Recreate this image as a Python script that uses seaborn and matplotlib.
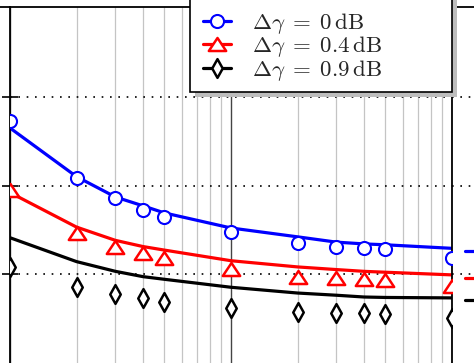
import numpy as np
import pandas as pd
import matplotlib
matplotlib.use("Agg")
import matplotlib.pyplot as plt
from matplotlib.lines import Line2D
from matplotlib.patches import Rectangle
from matplotlib.path import Path
import seaborn as sns

# ---------------- data ----------------
x_vals = [1, 2, 3, 4, 5, 10, 20, 30, 40, 50, 100]

labels = [r"$\Delta\gamma\;=\;0\,\mathrm{dB}$",
          r"$\Delta\gamma\;=\;0.4\,\mathrm{dB}$",
          r"$\Delta\gamma\;=\;0.9\,\mathrm{dB}$"]

# analytical curves
line_0dB = [2.65, 2.10, 1.87, 1.77, 1.69, 1.52, 1.42, 1.36, 1.34, 1.33, 1.29]
line_04dB = [1.92, 1.53, 1.38, 1.31, 1.27, 1.15, 1.08, 1.05, 1.03, 1.02, 0.99]
line_09dB = [1.41, 1.14, 1.03, 0.97, 0.94, 0.85, 0.785, 0.76, 0.74, 0.735, 0.73]

# simulation markers
mark_0dB = [2.73, 2.08, 1.86, 1.72, 1.64, 1.47, 1.35, 1.31, 1.29, 1.28, 1.18]
mark_04dB = [1.95, 1.46, 1.31, 1.24, 1.18, 1.06, 0.97, 0.955, 0.94, 0.93, 0.86]
mark_09dB = [1.08, 0.85, 0.77, 0.73, 0.68, 0.62, 0.57, 0.56, 0.56, 0.55, 0.50]

yticks = [1, 2, 3]

# neighbouring (cropped) panel on the right
right_x = [0.05, 1.0]
right_vals = [1.26, 0.955, 0.71]

colors = ["#0000ff", "#ff0000", "#000000"]

# ---------------- styling ----------------
sns.set_style("white")
plt.rcParams["mathtext.fontset"] = "cm"

W, H = 474, 363
fig = plt.figure(figsize=(W / 100, H / 100), dpi=100)

def fx(px):
    return px / W

def fy(py):
    return 1 - py / H

top_px, bot_px = 7, 400
ax = fig.add_axes([fx(10), fy(bot_px), (452 - 10) / W, (bot_px - top_px) / H])

df_lines = pd.DataFrame({
    "x": x_vals * 3,
    "y": line_0dB + line_04dB + line_09dB,
    "series": sum([[l] * len(x_vals) for l in labels], []),
})
df_marks = pd.DataFrame({
    "x": x_vals * 3,
    "y": mark_0dB + mark_04dB + mark_09dB,
    "series": sum([[l] * len(x_vals) for l in labels], []),
})

ax.set_xscale("log")
sns.lineplot(data=df_lines, x="x", y="y", hue="series", palette=colors,
             lw=2.3, legend=False, ax=ax, estimator=None, zorder=2)

def closed(verts):
    return Path(verts + [verts[0]],
                [Path.MOVETO] + [Path.LINETO] * (len(verts) - 1) + [Path.CLOSEPOLY])

tri = closed([(-1, -0.75), (1, -0.75), (0, 0.75)])
dia = closed([(0, 1), (-0.56, 0), (0, -1), (0.56, 0)])
mstyles = [dict(marker="o", markersize=9.4, markeredgewidth=1.5),
           dict(marker=tri, markersize=12.5, markeredgewidth=1.8),
           dict(marker=dia, markersize=13.5, markeredgewidth=1.8)]

for lab, c, ms in zip(labels, colors, mstyles):
    sub = df_marks[df_marks["series"] == lab]
    sns.lineplot(data=sub, x="x", y="y", linestyle="none", color=c,
                 markerfacecolor="white", markeredgecolor=c,
                 estimator=None, ax=ax, legend=False, zorder=3, **ms)

ax.set_xlim(1, 100)
ax.set_ylim(1 + (274 - bot_px) / 88.5, 1 + (274 - top_px) / 88.5)
ax.set_yticks(yticks)
ax.set_xlabel("")
ax.set_ylabel("")
ax.tick_params(axis="y", which="both", direction="inout", length=12, width=1.2,
               labelleft=False, left=True, color="black")
ax.tick_params(axis="x", which="both", length=0, labelbottom=False)

ax.set_axisbelow(True)
ax.grid(False)
ax.xaxis.grid(True, which="minor", color="#c4c4c4", lw=0.9, linestyle="-")
ax.xaxis.grid(True, which="major", color="#444444", lw=1.0, linestyle="-")
ax.yaxis.grid(True, which="major", color="black", lw=1.2, linestyle=(0, (1, 4)))

for s in ["left", "top", "right"]:
    ax.spines[s].set_visible(True)
    ax.spines[s].set_color("black")
    ax.spines[s].set_linewidth(1.3)
ax.spines["bottom"].set_visible(False)

# right neighbour panel (cropped)
ax2 = fig.add_axes([fx(452), fy(bot_px), (720 - 452) / W, (bot_px - top_px) / H])
ax2.set_xlim(0, 1)
ax2.set_ylim(ax.get_ylim())
for v, c in zip(right_vals, colors):
    sns.lineplot(x=right_x, y=[v, v], color=c, lw=2.3, ax=ax2, legend=False)
ax2.set_yticks(yticks)
ax2.set_xticks([])
ax2.tick_params(axis="y", length=0, labelleft=False)
ax2.yaxis.grid(True, color="black", lw=1.2, linestyle=(0, (1, 4)))
ax2.set_axisbelow(True)
for s in ["left", "right", "bottom"]:
    ax2.spines[s].set_visible(False)
ax2.spines["top"].set_visible(True)
ax2.spines["top"].set_color("black")
ax2.spines["top"].set_linewidth(1.3)
ax.set_zorder(2)
ax.patch.set_alpha(0)

# left neighbour panel (cropped): only its top spine shows
ax0 = fig.add_axes([fx(-100), fy(bot_px), 110 / W, (bot_px - top_px) / H])
ax0.set_xticks([])
ax0.set_yticks([])
for s in ["left", "right", "bottom"]:
    ax0.spines[s].set_visible(False)
ax0.spines["top"].set_color("black")
ax0.spines["top"].set_linewidth(1.3)
ax0.patch.set_alpha(0)

# legend box with shadow
lx0, lx1, ly0, ly1 = 190, 452, -20, 92
shadow = Rectangle((fx(lx0 + 5), fy(ly1 + 5)), (lx1 - lx0) / W, (ly1 - ly0) / H,
                   transform=fig.transFigure, facecolor="#bdbdbd", edgecolor="none", zorder=10)
box = Rectangle((fx(lx0), fy(ly1)), (lx1 - lx0) / W, (ly1 - ly0) / H,
                transform=fig.transFigure, facecolor="white", edgecolor="black", lw=1.2, zorder=11)
fig.add_artist(shadow)
fig.add_artist(box)

handles = [Line2D([], [], color=c, lw=2.3, markerfacecolor="white", markeredgecolor=c, **ms)
           for c, ms in zip(colors, mstyles)]
leg = fig.legend(handles, labels, loc="upper left", bbox_to_anchor=(fx(203), fy(11)),
                 frameon=False, borderpad=0, borderaxespad=0, handlelength=1.22,
                 handletextpad=0.9, labelspacing=-0.07, fontsize=16.5)
leg.set_zorder(12)

fig.savefig("out.png", dpi=100)
